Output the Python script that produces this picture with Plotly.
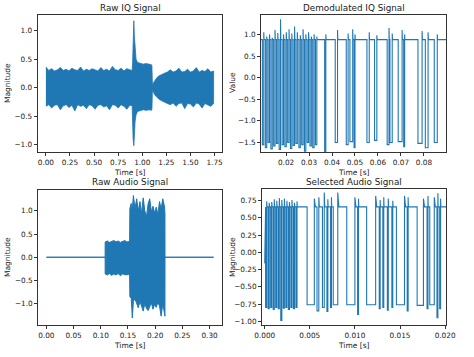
import plotly.graph_objects as go

C = "#1f77b4"
FONT = "DejaVu Sans"

# ---------------- Raw IQ signal: envelope of the dense oscillation ----------------
iq_t = [0.00, 0.03, 0.06, 0.09, 0.12, 0.15, 0.18, 0.21, 0.24, 0.27, 0.30, 0.33, 0.36, 0.39,
        0.42, 0.45, 0.48, 0.51, 0.54, 0.57, 0.60, 0.63, 0.66, 0.69, 0.72, 0.75, 0.78, 0.81,
        0.84, 0.87, 0.895, 0.900, 0.905, 0.912, 0.918, 0.925, 0.935, 0.95, 0.98, 1.01, 1.04,
        1.07, 1.095, 1.100, 1.105, 1.115, 1.13, 1.15, 1.17, 1.20, 1.23, 1.26, 1.29, 1.32,
        1.35, 1.38, 1.41, 1.44, 1.47, 1.50, 1.53, 1.56, 1.59, 1.62, 1.65, 1.68, 1.71, 1.74]
iq_hi = [0.36, 0.30, 0.33, 0.29, 0.31, 0.35, 0.30, 0.32, 0.29, 0.34, 0.31, 0.30, 0.36, 0.29,
         0.32, 0.30, 0.33, 0.31, 0.29, 0.35, 0.30, 0.32, 0.29, 0.37, 0.31, 0.30, 0.34, 0.29,
         0.33, 0.31, 0.30, 0.45, 1.10, 1.17, 0.90, 0.62, 0.50, 0.44, 0.42, 0.41, 0.42,
         0.41, 0.40, 0.38, 0.05, 0.08, 0.13, 0.17, 0.20, 0.23, 0.25, 0.27, 0.31, 0.27,
         0.29, 0.34, 0.27, 0.28, 0.32, 0.27, 0.29, 0.35, 0.27, 0.30, 0.28, 0.33, 0.27, 0.29]
iq_lo = [-0.33, -0.30, -0.36, -0.31, -0.30, -0.39, -0.32, -0.30, -0.35, -0.31, -0.41, -0.30, -0.33, -0.31,
         -0.37, -0.30, -0.32, -0.38, -0.31, -0.30, -0.34, -0.32, -0.39, -0.30, -0.31, -0.36, -0.30, -0.33,
         -0.38, -0.31, -0.32, -0.45, -0.90, -1.02, -0.85, -0.60, -0.48, -0.42, -0.40, -0.39, -0.40,
         -0.39, -0.40, -0.38, -0.05, -0.08, -0.13, -0.17, -0.20, -0.23, -0.26, -0.28, -0.30, -0.27,
         -0.33, -0.28, -0.27, -0.37, -0.28, -0.29, -0.34, -0.27, -0.29, -0.36, -0.28, -0.30, -0.33, -0.28]

# ---------------- Raw audio signal ----------------
au_t = [0.000, 0.108, 0.1081, 0.112, 0.116, 0.120, 0.124, 0.128, 0.132, 0.136, 0.140, 0.144,
        0.148, 0.1525, 0.153, 0.1535, 0.156, 0.158, 0.160, 0.163, 0.166, 0.169, 0.172, 0.175,
        0.178, 0.181, 0.184, 0.187, 0.190, 0.193, 0.196, 0.199, 0.202, 0.205, 0.208, 0.211,
        0.214, 0.217, 0.218, 0.2181, 0.3075]
au_hi = [0.0, 0.0, 0.33, 0.35, 0.32, 0.34, 0.36, 0.33, 0.35, 0.32, 0.34, 0.36,
         0.33, 0.34, 0.34, 1.05, 1.16, 1.02, 1.33, 1.05, 1.26, 1.00, 1.20, 0.95,
         1.28, 1.00, 0.87, 1.15, 1.26, 0.98, 1.10, 0.95, 1.08, 0.92, 1.20, 1.04,
         1.26, 1.10, 0.95, 0.0, 0.0]
au_lo = [0.0, 0.0, -0.36, -0.38, -0.35, -0.39, -0.36, -0.38, -0.35, -0.40, -0.36, -0.37,
         -0.38, -0.36, -0.36, -0.85, -0.88, -1.31, -0.95, -0.90, -1.00, -1.09, -0.95, -1.05,
         -1.16, -1.00, -1.10, -1.15, -1.05, -0.98, -1.12, -1.02, -1.08, -0.97, -1.05, -1.27,
         -1.00, -1.18, -1.27, 0.0, 0.0]

# ---------------- Demodulated IQ signal (low pulses) ----------------
dm_start, dm_end, dm_high = 0.0091, 0.0896, 0.88
dm_fall = [0.0097, 0.0110, 0.0122, 0.0134, 0.0146, 0.0158, 0.0170, 0.0183, 0.0195, 0.0207,
           0.0219, 0.0231, 0.0243, 0.0256, 0.0268, 0.0280, 0.0292, 0.0304, 0.0316, 0.0328,
           0.0368, 0.0414, 0.0462, 0.0478, 0.0496, 0.0552, 0.0585, 0.0640, 0.0652, 0.0688,
           0.0712, 0.0774, 0.0806, 0.0845]
dm_rise = [0.0103, 0.0116, 0.0128, 0.0140, 0.0152, 0.0164, 0.0176, 0.0189, 0.0201, 0.0213,
           0.0225, 0.0237, 0.0249, 0.0262, 0.0274, 0.0286, 0.0298, 0.0310, 0.0322, 0.0334,
           0.0373, 0.0424, 0.0470, 0.0490, 0.0500, 0.0562, 0.0595, 0.0648, 0.0662, 0.0705,
           0.0716, 0.0792, 0.0818, 0.0858]
dm_low = [-1.55, -1.62, -1.50, -1.65, -1.58, -1.52, -1.66, -1.55, -1.60, -1.50,
          -1.64, -1.57, -1.52, -1.62, -1.55, -1.70, -1.50, -1.58, -1.62, -1.55,
          -1.72, -1.50, -1.55, -1.48, -1.62, -1.50, -1.45, -1.55, -1.50, -1.48,
          -1.60, -1.52, -1.62, -1.50]
dm_peak = [1.05, 0.95, 1.00, 0.92, 1.10, 1.03, 1.35, 1.00, 1.05, 1.12,
           1.02, 1.18, 1.05, 0.98, 1.12, 1.00, 1.05, 0.95, 1.00, 0.95,
           1.00, 1.10, 1.02, 1.12, 1.00, 1.05, 0.98, 1.15, 1.02, 1.10,
           1.00, 1.08, 1.05, 1.00]

# ---------------- Selected audio signal (low pulses) ----------------
sa_start, sa_end, sa_high, sa_first = 0.0, 0.0201, 0.66, -0.16
sa_fall = [0.00010, 0.00038, 0.00066, 0.00094, 0.00122, 0.00150, 0.00178, 0.00206, 0.00234,
           0.00262, 0.00290, 0.00318, 0.00346,
           0.0047, 0.0058, 0.0064, 0.0069, 0.0073, 0.0076, 0.0091, 0.0103, 0.0113, 0.0127,
           0.0131, 0.0136, 0.0141, 0.0146, 0.0158, 0.0169, 0.0180, 0.0183, 0.0191, 0.0194]
sa_rise = [0.00022, 0.00050, 0.00078, 0.00106, 0.00134, 0.00162, 0.00190, 0.00218, 0.00246,
           0.00274, 0.00302, 0.00330, 0.00358,
           0.0055, 0.0060, 0.0066, 0.0070, 0.0074, 0.0081, 0.0100, 0.0104, 0.0123, 0.0128,
           0.0132, 0.0137, 0.0142, 0.0155, 0.0159, 0.0176, 0.0181, 0.0188, 0.0192, 0.0195]
sa_low = [-0.80, -0.82, -0.80, -0.83, -0.80, -0.82, -0.99, -0.81, -0.80, -0.83, -0.80, -0.82, -0.80,
          -0.76, -0.85, -0.80, -0.86, -0.80, -0.76, -0.76, -0.90, -0.76, -0.82,
          -0.80, -0.84, -0.80, -0.76, -0.85, -0.77, -0.82, -0.76, -0.95, -0.82]
sa_peak = [0.74, 0.72, 0.73, 0.77, 0.75, 0.79, 0.76, 0.78, 0.75, 0.73, 0.76, 0.72, 0.74,
           0.78, 0.80, 0.87, 0.77, 0.80, 0.87, 0.80, 0.78, 0.82, 0.76,
           0.80, 0.78, 0.75, 0.82, 0.80, 0.78, 0.82, 0.80, 0.86, 0.78]


def pulse_line(start, end, high, falls, rises, lows, peaks, first=None):
    xs, ys = [start], [high if first is None else first]
    for f, r, lo, pk in zip(falls, rises, lows, peaks):
        xs += [f, f, r, r, r + min(r - f, 0.0004) * 0.3]
        ys += [high, lo, lo, pk, high]
    xs.append(end)
    ys.append(high)
    return xs, ys


fig = go.Figure()

fig.add_trace(go.Scatter(x=iq_t + iq_t[::-1], y=iq_hi + iq_lo[::-1], fill="toself",
                         fillcolor=C, line=dict(color=C, width=0.8), mode="lines",
                         xaxis="x", yaxis="y", hoverinfo="skip"))
dx, dy = pulse_line(dm_start, dm_end, dm_high, dm_fall, dm_rise, dm_low, dm_peak)
fig.add_trace(go.Scatter(x=dx, y=dy, mode="lines", line=dict(color=C, width=1.1),
                         xaxis="x2", yaxis="y2"))
fig.add_trace(go.Scatter(x=au_t + au_t[::-1], y=au_hi + au_lo[::-1], fill="toself",
                         fillcolor=C, line=dict(color=C, width=1.0), mode="lines",
                         xaxis="x3", yaxis="y3", hoverinfo="skip"))
sx, sy = pulse_line(sa_start, sa_end, sa_high, sa_fall, sa_rise, sa_low, sa_peak, first=sa_first)
fig.add_trace(go.Scatter(x=sx, y=sy, mode="lines", line=dict(color=C, width=1.1),
                         xaxis="x4", yaxis="y4"))

W, H = 474, 357


def dom_x(a, b):
    return [a / W, b / W]


def dom_y(top, bot):
    return [1 - bot / H, 1 - top / H]


def ax(domain, rng, vals, texts, anchor):
    return dict(domain=domain, range=rng, tickvals=vals, ticktext=texts, anchor=anchor,
                automargin=False, showline=True, mirror=True, linecolor="#333", linewidth=0.8,
                ticks="outside", ticklen=3, tickcolor="#333", tickwidth=0.8,
                showgrid=False, zeroline=False,
                tickfont=dict(family=FONT, size=7.3, color="#222"))


M = "\u2212"
fig.update_layout(
    width=W, height=H, margin=dict(l=0, r=0, t=0, b=0),
    paper_bgcolor="white", plot_bgcolor="white", showlegend=False,
    xaxis=ax(dom_x(37.5, 222), [-0.087, 1.827], [0, 0.25, 0.5, 0.75, 1.0, 1.25, 1.5, 1.75],
             ["0.00", "0.25", "0.50", "0.75", "1.00", "1.25", "1.50", "1.75"], "y"),
    yaxis=ax(dom_y(14.5, 152), [-1.13, 1.28], [-1, -0.5, 0, 0.5, 1],
             [M + "1.0", M + "0.5", "0.0", "0.5", "1.0"], "x"),
    xaxis2=ax(dom_x(261, 446), [0.0091, 0.0896], [0.02, 0.03, 0.04, 0.05, 0.06, 0.07, 0.08],
              ["0.02", "0.03", "0.04", "0.05", "0.06", "0.07", "0.08"], "y2"),
    yaxis2=ax(dom_y(14.5, 152), [-1.72, 1.46], [-1.5, -1, -0.5, 0, 0.5, 1],
              [M + "1.5", M + "1.0", M + "0.5", "0.0", "0.5", "1.0"], "x2"),
    xaxis3=ax(dom_x(38, 222), [-0.0154, 0.3229], [0, 0.05, 0.1, 0.15, 0.2, 0.25, 0.3],
              ["0.00", "0.05", "0.10", "0.15", "0.20", "0.25", "0.30"], "y3"),
    yaxis3=ax(dom_y(189.5, 325), [-1.46, 1.46], [-1, -0.5, 0, 0.5, 1],
              [M + "1.0", M + "0.5", "0.0", "0.5", "1.0"], "x3"),
    xaxis4=ax(dom_x(262, 446), [-0.0003, 0.0201], [0, 0.005, 0.01, 0.015, 0.02],
              ["0.000", "0.005", "0.010", "0.015", "0.020"], "y4"),
    yaxis4=ax(dom_y(189, 325), [-1.055, 0.92], [-1, -0.75, -0.5, -0.25, 0, 0.25, 0.5, 0.75],
              [M + "1.00", M + "0.75", M + "0.50", M + "0.25", "0.00", "0.25", "0.50", "0.75"],
              "x4"),
)

labels = [
    ("Raw IQ Signal", 130, 8, 8.8, 0), ("Demodulated IQ Signal", 354, 8, 8.8, 0),
    ("Raw Audio Signal", 130, 182, 8.8, 0), ("Selected Audio Signal", 354, 182, 8.8, 0),
    ("Time [s]", 130, 172, 7.5, 0), ("Time [s]", 354, 172, 7.5, 0),
    ("Time [s]", 130, 345, 7.5, 0), ("Time [s]", 354, 345, 7.5, 0),
    ("Magnitude", 7, 83, 7.5, -90), ("Value", 232, 83, 7.5, -90),
    ("Magnitude", 7, 257, 7.5, -90), ("Magnitude", 232, 257, 7.5, -90),
]
for text, x, y, size, ang in labels:
    fig.add_annotation(text=text, x=x / W, y=1 - y / H, xref="paper", yref="paper",
                       showarrow=False, xanchor="center", yanchor="middle", textangle=ang,
                       font=dict(family=FONT, size=size, color="#222"))

fig.write_html("out.html", config={"displayModeBar": False},
               post_script="document.body.style.margin='0';document.body.style.overflow='hidden';")
